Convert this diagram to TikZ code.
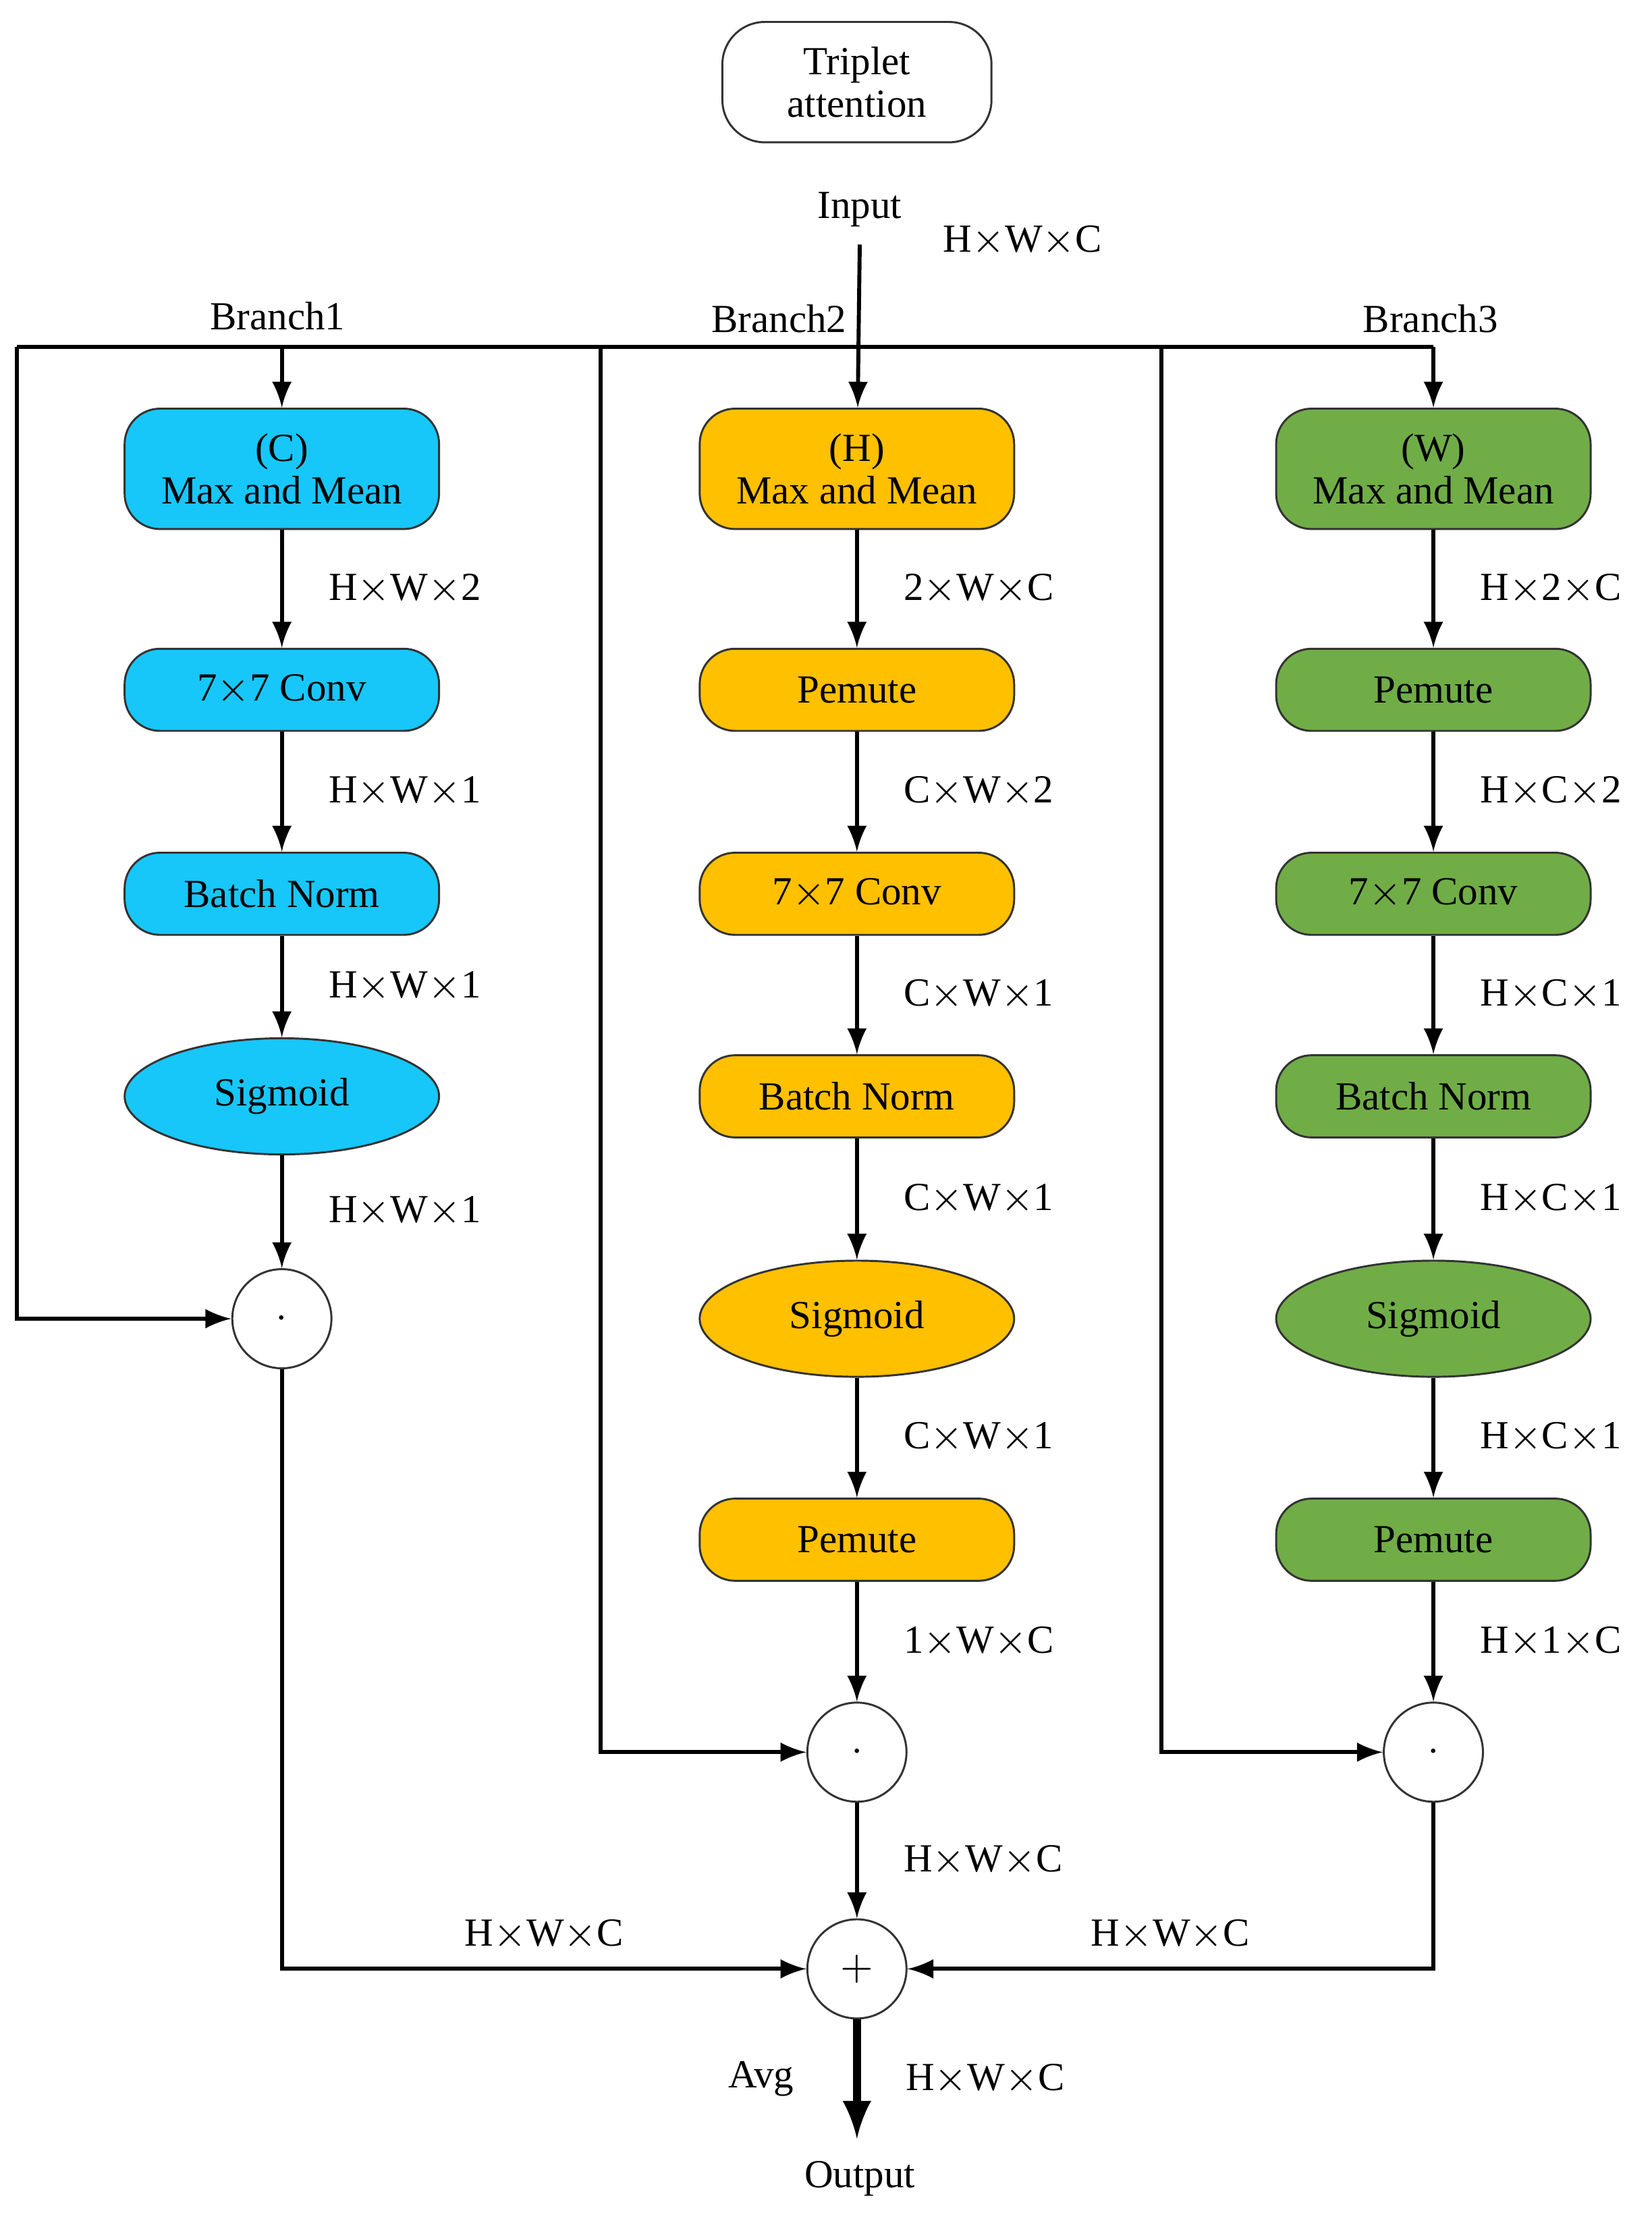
\documentclass[tikz,border=0pt]{standalone}
\usepackage{fontspec}
\setmainfont{Liberation Serif}
\usetikzlibrary{arrows,calc,positioning,shapes.geometric}
\definecolor{cblue}{RGB}{23,199,250}
\definecolor{corange}{RGB}{255,192,0}
\definecolor{cgreen}{RGB}{112,173,71}
\tikzset{
	blk/.style={rectangle,rounded corners=2.5mm,draw=black!80,minimum width=2.22cm,minimum height=0.58cm,align=center,font=\fontsize{8}{8.5}\selectfont},
	mm/.style={blk,minimum height=0.85cm},
	sig/.style={ellipse,draw=black!80,minimum width=2.22cm,minimum height=0.82cm,font=\fontsize{8}{9}\selectfont},
	op/.style={circle,draw=black!80,fill=white,minimum size=0.7cm,inner sep=0pt,font=\fontsize{8}{9}\selectfont},
	dim/.style={font=\fontsize{8}{9}\selectfont},
	arr/.style={-latex,thick}
}
\begin{document}
\begin{tikzpicture}[x=1cm,y=-1cm,font=\fontsize{8}{9}\selectfont]
	\useasboundingbox (0,0) rectangle (11.66,15.68);
	\node (ta) [blk,minimum width=1.9cm,minimum height=0.85cm,rounded corners=3mm] at (6.05,0.58) {Triplet\\attention};
	\node (in) at (6.07,1.48) {Input};
	\node[dim] at (7.22,1.70) {H$\times$W$\times$C};
	% branch 1
	\node (c1) [mm,fill=cblue] at (1.99,3.31) {(C)\\Max and Mean};
	\node (c2) [blk,fill=cblue] at (1.99,4.87) {7$\times$7 Conv};
	\node (c3) [blk,fill=cblue] at (1.99,6.31) {Batch Norm};
	\node (c4) [sig,fill=cblue] at (1.99,7.74) {Sigmoid};
	\node (c5) [op] at (1.99,9.31) {$\cdot$};
	% branch 2
	\node (h1) [mm,fill=corange] at (6.05,3.31) {(H)\\Max and Mean};
	\node (h2) [blk,fill=corange] at (6.05,4.87) {Pemute};
	\node (h3) [blk,fill=corange] at (6.05,6.31) {7$\times$7 Conv};
	\node (h4) [blk,fill=corange] at (6.05,7.74) {Batch Norm};
	\node (h5) [sig,fill=corange] at (6.05,9.31) {Sigmoid};
	\node (h6) [blk,fill=corange] at (6.05,10.87) {Pemute};
	\node (h7) [op] at (6.05,12.37) {$\cdot$};
	% branch 3
	\node (w1) [mm,fill=cgreen] at (10.12,3.31) {(W)\\Max and Mean};
	\node (w2) [blk,fill=cgreen] at (10.12,4.87) {Pemute};
	\node (w3) [blk,fill=cgreen] at (10.12,6.31) {7$\times$7 Conv};
	\node (w4) [blk,fill=cgreen] at (10.12,7.74) {Batch Norm};
	\node (w5) [sig,fill=cgreen] at (10.12,9.31) {Sigmoid};
	\node (w6) [blk,fill=cgreen] at (10.12,10.87) {Pemute};
	\node (w7) [op] at (10.12,12.37) {$\cdot$};
	\node (sum) [op] at (6.05,13.90) {$+$};
	\node (out) at (6.07,15.38) {Output};
	\coordinate (ob) at (6.05,15.10);
	% splitting line
	\coordinate (top) at (6.05,2.45);
	\coordinate (l1) at (0.12,2.45);
	\coordinate (l2) at (4.24,2.45);
	\coordinate (l3) at (8.20,2.45);
	\draw[thick] (l1) -- (10.12,2.45);
	\draw[arr] (in.south) -- (h1);
	\draw[arr] (c1 |- top) -- (c1);
	\draw[arr] (w1 |- top) -- (w1);
	\node at (1.96,2.23) {Branch1};
	\node at (5.50,2.25) {Branch2};
	\node at (10.10,2.25) {Branch3};
	% chains
	\foreach \a/\b/\t in {c1/c2/H$\times$W$\times$2,c2/c3/H$\times$W$\times$1,c3/c4/H$\times$W$\times$1,c4/c5/H$\times$W$\times$1}
		\draw[arr] (\a) -- node[right=0.2cm,dim]{\t} (\b);
	\foreach \a/\b/\t in {h1/h2/2$\times$W$\times$C,h2/h3/C$\times$W$\times$2,h3/h4/C$\times$W$\times$1,h4/h5/C$\times$W$\times$1,h5/h6/C$\times$W$\times$1,h6/h7/1$\times$W$\times$C,h7/sum/H$\times$W$\times$C}
		\draw[arr] (\a) -- node[right=0.2cm,dim]{\t} (\b);
	\foreach \a/\b/\t in {w1/w2/H$\times$2$\times$C,w2/w3/H$\times$C$\times$2,w3/w4/H$\times$C$\times$1,w4/w5/H$\times$C$\times$1,w5/w6/H$\times$C$\times$1,w6/w7/H$\times$1$\times$C}
		\draw[arr] (\a) -- node[right=0.2cm,dim]{\t} (\b);
	% skip paths
	\draw[arr] (l1) |- (c5);
	\draw[arr] (l2) |- (h7);
	\draw[arr] (l3) |- (w7);
	\draw[arr] (c5) |- node[pos=0.75,above,dim]{H$\times$W$\times$C} (sum);
	\draw[arr] (w7) |- node[pos=0.75,above,dim]{H$\times$W$\times$C} (sum);
	\draw[-latex,line width=1.6pt] (sum) -- node[left=0.3cm]{Avg} node[right=0.2cm,dim]{H$\times$W$\times$C} (ob);
\end{tikzpicture}
\end{document}
